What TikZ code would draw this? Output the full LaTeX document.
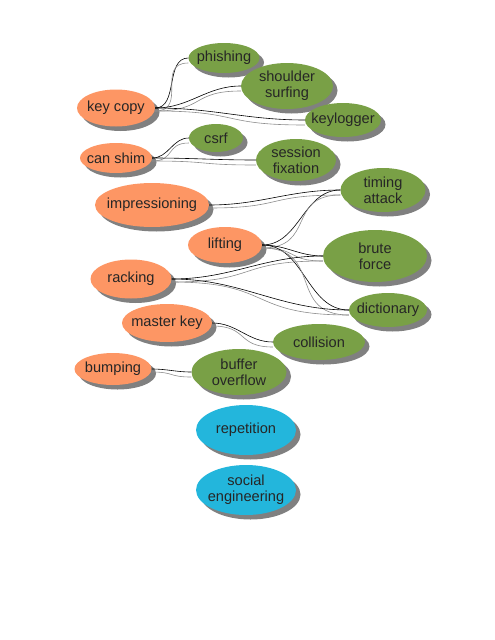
\documentclass[tikz,border=0pt]{standalone}
\usepackage{fontspec}
\setmainfont{Liberation Sans}
\usepackage{xcolor}
\usepackage{tikz}
\usetikzlibrary{shapes.geometric,shadows}

\definecolor{lockorange}{RGB}{253,150,100}
\definecolor{attackgreen}{RGB}{121,160,70}
\definecolor{otherblue}{RGB}{35,182,220}

\begin{document}
\begin{tikzpicture}[
    x=1pt, y=-1pt,
    bubble/.style={ellipse, inner xsep=-12pt, inner ysep=-6pt, text=black!85,
        font=\fontsize{14.6}{16}\selectfont, align=center,
        drop shadow={shadow xshift=4.5pt, shadow yshift=-4.5pt, fill=black!50, opacity=1}},
    lock/.style={bubble, fill=lockorange},
    attack/.style={bubble, fill=attackgreen},
    other/.style={bubble, fill=otherblue},
    link/.style={black, line width=0.6pt},
    link shade/.style={black!45, line width=0.6pt}
]
\useasboundingbox (0,0) rectangle (495,640);

% left side
\node[lock, minimum width=78pt, minimum height=37pt] (keycopy) at (116,108) {key copy};
\node[lock, minimum width=72pt, minimum height=30pt] (canshim) at (116,158) {can shim};
\node[lock, minimum width=114pt, minimum height=44pt] (impressioning) at (152,205) {impressioning};
\node[lock, minimum width=74pt, minimum height=36pt] (lifting) at (225,245) {lifting};
\node[lock, minimum width=81pt, minimum height=39pt] (racking) at (131,279) {racking};
\node[lock, minimum width=90pt, minimum height=38pt] (masterkey) at (167,323) {master key};
\node[lock, minimum width=77pt, minimum height=32pt] (bumping) at (113,369) {bumping};

% right side
\node[attack, minimum width=71pt, minimum height=30pt] (phishing) at (224,58) {phishing};
\node[attack, minimum width=92pt, minimum height=46pt] (shoulder) at (287,86) {shoulder\\surfing};
\node[attack, minimum width=76pt, minimum height=34pt] (keylogger) at (343,120) {keylogger};
\node[attack, minimum width=54pt, minimum height=28pt] (csrf) at (216,138) {csrf};
\node[attack, minimum width=80pt, minimum height=42pt] (session) at (296,160) {session\\fixation};
\node[attack, minimum width=85pt, minimum height=44pt] (timing) at (383,190) {timing\\attack};
\node[attack, minimum width=104pt, minimum height=52pt] (brute) at (375,256) {brute\\force};
\node[attack, minimum width=78pt, minimum height=34pt] (dictionary) at (388,310) {dictionary};
\node[attack, minimum width=92pt, minimum height=36pt] (collision) at (319,342) {collision};
\node[attack, minimum width=95pt, minimum height=46pt] (buffer) at (239,372) {buffer\\overflow};

% unconnected
\node[other, minimum width=100pt, minimum height=50pt] (repetition) at (246,430) {repetition};
\node[other, minimum width=100pt, minimum height=50pt] (social) at (246,490) {social\\engineering};

% links
\foreach \a/\b in {keycopy/phishing, keycopy/shoulder, keycopy/keylogger,
                   canshim/csrf, canshim/session,
                   impressioning/timing,
                   lifting/timing, lifting/brute, lifting/dictionary,
                   racking/brute, racking/dictionary,
                   masterkey/collision, bumping/buffer} {
  \draw[link] (\a.east) to[out=0, in=180] (\b.west);
  \draw[link shade] ([yshift=-3pt]\a.east) to[out=0, in=180, looseness=1.45] ([yshift=-5pt]\b.west);
}

\end{tikzpicture}
\end{document}
